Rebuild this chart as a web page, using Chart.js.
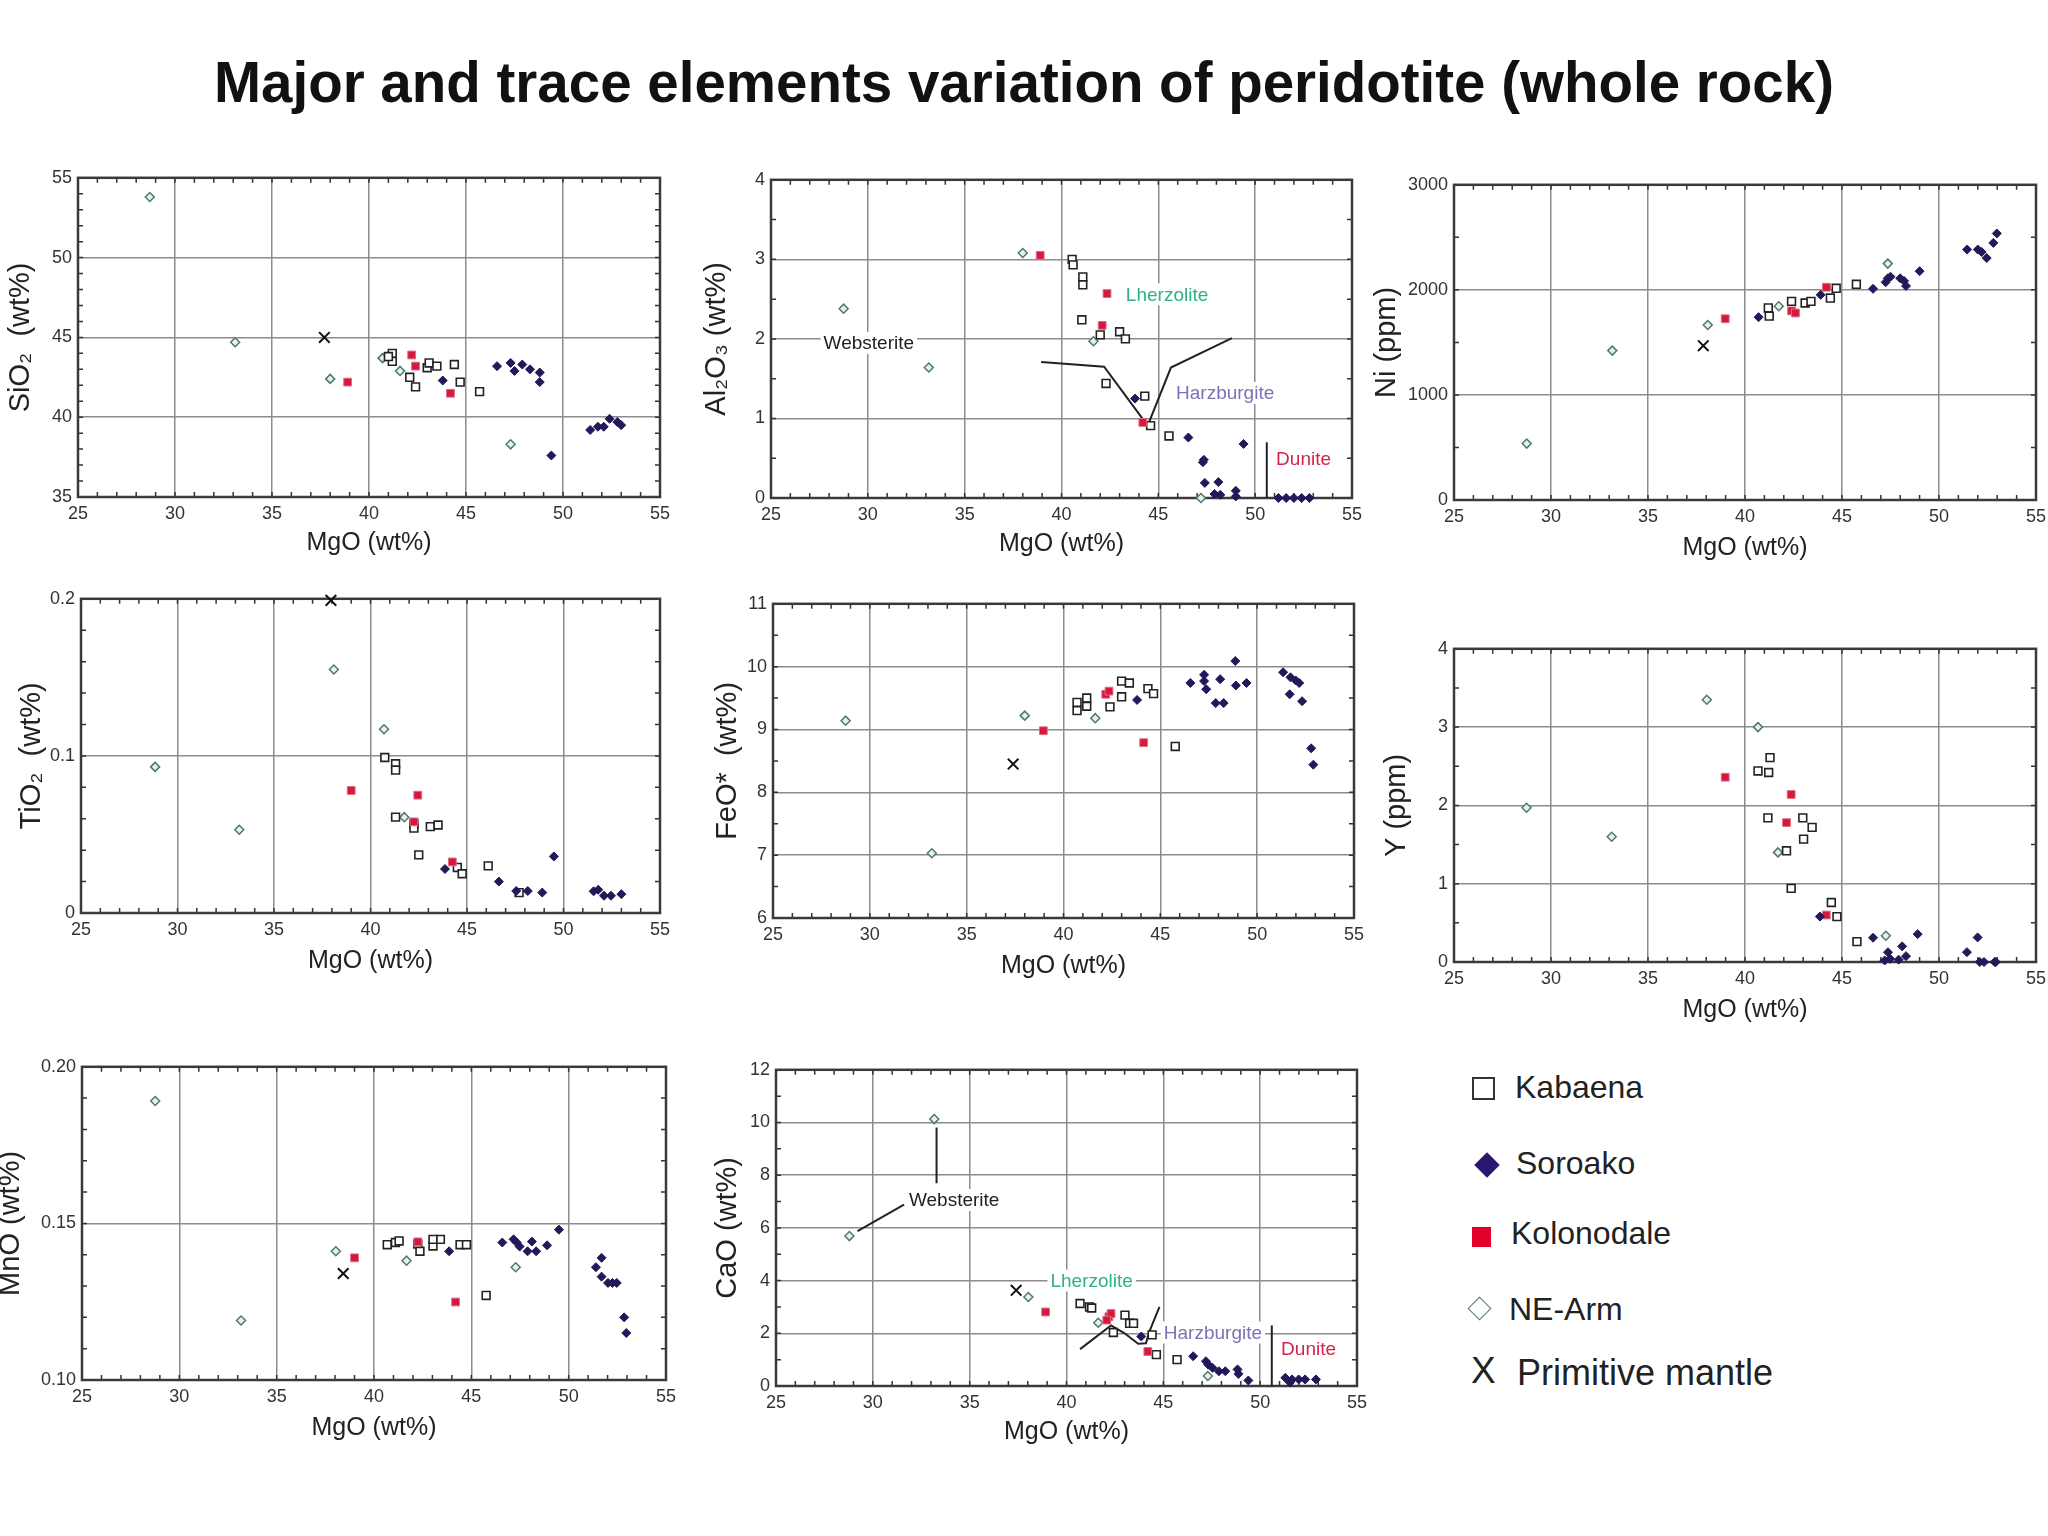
<!DOCTYPE html>
<html>
<head>
<meta charset="utf-8">
<script src="https://cdn.jsdelivr.net/npm/chart.js@4.4.1/dist/chart.umd.min.js"></script>
<style>
  body { margin: 0; width: 2048px; height: 1536px; background: #fff; position: relative; overflow: hidden;
         font-family: 'Liberation Sans', Arial, sans-serif; color: #222; }
  #title { position: absolute; left: 0; top: 54px; width: 2048px; text-align: center;
           font-size: 56.5px; line-height: 57px; font-weight: bold; color: #111; }
  canvas { position: absolute; }
  .lg { position: absolute; font-size: 32px; line-height: 32px; color: #222; white-space: nowrap; }
  .mk { position: absolute; box-sizing: border-box; }
</style>
</head>
<body>
<div id="title">Major and trace elements variation of peridotite (whole rock)</div>

<!-- shared legend -->
<div class="mk" style="left:1472px;top:1077px;width:23px;height:23px;border:2px solid #333;background:#fff"></div>
<div class="lg" style="left:1515px;top:1071px">Kabaena</div>
<div class="mk" style="left:1478px;top:1156px;width:18px;height:18px;background:#2a1670;transform:rotate(45deg)"></div>
<div class="lg" style="left:1516px;top:1147px">Soroako</div>
<div class="mk" style="left:1472px;top:1227px;width:19px;height:20px;background:#e4002b"></div>
<div class="lg" style="left:1511px;top:1217px">Kolonodale</div>
<div class="mk" style="left:1471px;top:1300px;width:17px;height:17px;border:1.5px solid #557f70;background:#fff;transform:rotate(45deg)"></div>
<div class="lg" style="left:1509px;top:1293px">NE-Arm</div>
<div class="lg" style="left:1471px;top:1352px;font-size:37px;line-height:37px">X</div>
<div class="lg" style="left:1517px;top:1355px;font-size:36px;line-height:36px">Primitive mantle</div>

<script>
// ---- axis ticks ----
const mgoTicks = [25, 30, 35, 40, 45, 50, 55];
const sio2Ticks = [35, 40, 45, 50, 55];
const al2o3Ticks = [0, 1, 2, 3, 4];
const niTicks = [0, 1000, 2000, 3000];
const tio2Ticks = [0, 0.1, 0.2];
const tio2TickLabels = ['0', '0.1', '0.2'];
const feoTicks = [6, 7, 8, 9, 10, 11];
const yTicks = [0, 1, 2, 3, 4];
const mnoTicks = [0.10, 0.15, 0.20];
const mnoTickLabels = ['0.10', '0.15', '0.20'];
const caoTicks = [0, 2, 4, 6, 8, 10, 12];

// ---- SiO2 vs MgO ----
const sio2Kabaena = [[41.2,44.0],[41.2,43.5],[41.0,43.8],[42.1,42.5],[42.4,41.9],[43.0,43.1],[43.1,43.4],[43.5,43.2],[44.4,43.3],[44.7,42.2],[45.7,41.6]];
const sio2Soroako = [[43.8,42.3],[46.6,43.2],[47.3,43.4],[47.5,42.9],[47.9,43.3],[48.3,43.0],[48.8,42.8],[48.8,42.2],[49.4,37.6],[51.4,39.2],[51.8,39.4],[52.1,39.4],[52.4,39.9],[52.8,39.7],[53.0,39.5]];
const sio2Kolonodale = [[38.9,42.2],[42.2,43.9],[42.4,43.2],[44.2,41.5]];
const sio2NEArm = [[28.7,53.8],[33.1,44.7],[38.0,42.4],[40.7,43.7],[41.6,42.9],[47.3,38.3]];
const sio2Primitive = [[37.7,45.0]];

// ---- Al2O3 vs MgO ----
const al2o3Kabaena = [[40.55,3.0],[40.6,2.93],[41.1,2.78],[41.1,2.68],[41.05,2.24],[42.0,2.05],[43.0,2.09],[43.3,2.0],[42.3,1.44],[44.3,1.28],[44.6,0.91],[45.55,0.78]];
const al2o3Soroako = [[43.8,1.25],[46.55,0.76],[47.3,0.45],[47.35,0.48],[47.4,0.19],[48.1,0.2],[47.9,0.05],[48.2,0.04],[49.0,0.09],[49.0,0.02],[49.4,0.68],[51.2,0],[51.6,0],[52.0,0],[52.4,0],[52.8,0]];
const al2o3Kolonodale = [[38.9,3.05],[42.35,2.57],[42.1,2.17],[44.2,0.95]];
const al2o3NEArm = [[28.75,2.38],[33.15,1.64],[38.0,3.08],[41.65,1.97],[47.2,0.0]];
const al2o3Boundary = [[38.95,1.71],[42.2,1.65],[44.45,0.91],[45.65,1.64],[48.8,2.01]];
const al2o3DuniteLine = [[50.6,0],[50.6,0.7]];

// ---- Ni vs MgO ----
const niKabaena = [[41.2,1828],[41.25,1750],[42.4,1890],[43.1,1875],[43.4,1890],[44.4,1922],[44.7,2015],[45.74,2053]];
const niSoroako = [[40.7,1740],[43.9,1953],[46.6,2010],[47.25,2072],[47.36,2110],[47.5,2125],[48.0,2110],[48.2,2085],[48.3,2037],[49.0,2178],[51.45,2384],[52.0,2384],[52.2,2360],[52.46,2303],[52.8,2447],[52.98,2537]];
const niKolonodale = [[38.98,1725],[42.4,1800],[42.6,1780],[44.2,2025]];
const niNEArm = [[28.75,537],[33.16,1422],[38.08,1666],[41.74,1844],[47.36,2250]];
const niPrimitive = [[37.85,1469]];

// ---- TiO2 vs MgO ----
const tio2Kabaena = [[40.74,0.099],[41.3,0.095],[41.3,0.091],[41.3,0.061],[42.25,0.057],[42.25,0.054],[43.1,0.055],[43.5,0.056],[42.5,0.037],[44.5,0.029],[44.75,0.025],[46.1,0.030],[47.7,0.013]];
const tio2Soroako = [[43.86,0.028],[46.65,0.020],[47.55,0.014],[48.15,0.014],[48.9,0.013],[49.5,0.036],[51.56,0.0138],[51.8,0.0148],[52.1,0.011],[52.46,0.011],[53.0,0.012]];
const tio2Kolonodale = [[39.0,0.078],[42.45,0.075],[42.25,0.058],[44.24,0.0325]];
const tio2NEArm = [[28.84,0.093],[33.2,0.053],[38.1,0.155],[40.7,0.117],[41.75,0.061]];
const tio2Primitive = [[37.95,0.199]];

// ---- FeO* vs MgO ----
const feoKabaena = [[40.7,9.43],[40.7,9.3],[41.2,9.5],[41.2,9.37],[42.4,9.36],[43.0,9.77],[43.4,9.74],[43.0,9.52],[44.36,9.65],[44.65,9.57],[45.77,8.73]];
const feoSoroako = [[43.8,9.47],[46.55,9.74],[47.26,9.87],[47.26,9.77],[47.37,9.64],[47.86,9.42],[48.27,9.42],[48.09,9.8],[48.87,10.09],[48.9,9.7],[49.45,9.74],[51.34,9.91],[51.68,9.56],[51.72,9.83],[51.99,9.78],[52.17,9.74],[52.32,9.45],[52.79,8.7],[52.9,8.44]];
const feoKolonodale = [[38.96,8.98],[42.18,9.56],[42.35,9.61],[44.14,8.79]];
const feoNEArm = [[28.75,9.14],[33.2,7.03],[38.0,9.22],[41.64,9.18]];
const feoPrimitive = [[37.4,8.45]];

// ---- Y vs MgO ----
const yKabaena = [[41.29,2.61],[40.67,2.44],[41.22,2.42],[41.18,1.84],[42.14,1.42],[42.38,0.94],[42.98,1.84],[43.46,1.72],[43.02,1.57],[44.45,0.76],[44.74,0.58],[45.77,0.26]];
const ySoroako = [[43.86,0.58],[46.6,0.31],[47.37,0.125],[47.2,0.02],[47.48,0.04],[48.1,0.2],[47.92,0.03],[48.3,0.075],[48.9,0.356],[51.44,0.126],[51.99,0.314],[52.1,0],[52.32,0],[52.87,0],[52.93,0]];
const yKolonodale = [[38.98,2.36],[42.38,2.14],[42.14,1.78],[44.19,0.6]];
const yNEArm = [[28.74,1.97],[33.13,1.6],[38.03,3.35],[40.67,3.0],[41.7,1.4],[47.26,0.335]];

// ---- MnO vs MgO ----
const mnoKabaena = [[40.68,0.1432],[41.1,0.1439],[41.29,0.1444],[42.25,0.1434],[42.36,0.1411],[43.03,0.1428],[43.41,0.1449],[43.03,0.1449],[44.42,0.1432],[44.75,0.1432],[45.76,0.127]];
const mnoSoroako = [[43.86,0.1411],[46.59,0.1439],[47.17,0.1449],[47.33,0.1439],[47.48,0.1426],[47.89,0.1411],[48.33,0.1411],[48.11,0.1442],[48.89,0.143],[49.5,0.148],[51.4,0.136],[51.69,0.139],[51.69,0.133],[52.02,0.131],[52.25,0.131],[52.47,0.131],[52.85,0.12],[52.96,0.115]];
const mnoKolonodale = [[39.0,0.139],[42.25,0.1441],[44.19,0.1249]];
const mnoNEArm = [[28.76,0.1891],[33.17,0.119],[38.04,0.1411],[41.67,0.1381],[47.28,0.136]];
const mnoPrimitive = [[38.42,0.134]];

// ---- CaO vs MgO ----
const caoKabaena = [[40.7,3.13],[41.19,3.0],[41.3,2.96],[43.02,2.69],[43.26,2.38],[43.46,2.38],[42.42,2.03],[44.42,1.94],[44.64,1.19],[45.71,1.0]];
const caoSoroako = [[43.86,1.88],[46.54,1.13],[47.2,0.94],[47.32,0.81],[47.54,0.69],[47.87,0.56],[48.2,0.56],[48.83,0.63],[48.88,0.46],[49.39,0.21],[51.3,0.31],[51.54,0.13],[51.65,0.25],[51.99,0.25],[52.32,0.25],[52.88,0.25]];
const caoKolonodale = [[38.92,2.81],[42.19,2.63],[42.3,2.75],[42.08,2.5],[44.2,1.31]];
const caoNEArm = [[28.79,5.69],[33.17,10.13],[38.03,3.38],[41.64,2.4],[47.3,0.38]];
const caoPrimitive = [[37.4,3.63]];
const caoBoundary = [[40.7,1.4],[42.3,2.3],[43.0,2.0],[43.7,1.6],[44.1,1.62],[44.3,2.1],[44.8,3.0]];
const caoDuniteLine = [[50.6,0],[50.6,2.3]];
const caoWebsteriteUp = [[33.29,9.81],[33.29,7.69]];
const caoWebsteriteDown = [[29.21,5.88],[31.61,6.88]];

// ---- look ----
const narrow = "'Liberation Sans Narrow', 'Arial Narrow', 'Liberation Sans', sans-serif";
const regular = "'Liberation Sans', Arial, sans-serif";
const YW = 100, XH = 80, PADT = 16, PADR = 24;
const X_TITLE = 25, Y_TITLE = 29;

const styles = {
  soroako:    { pointStyle: 'rectRot', pointRadius: 4.5, backgroundColor: '#22195a', borderColor: '#22195a', borderWidth: 1 },
  kabaena:    { pointStyle: 'rect', pointRadius: 5.5, backgroundColor: '#fff', borderColor: '#222', borderWidth: 1.6 },
  kolonodale: { pointStyle: 'rect', pointRadius: 5.5, backgroundColor: '#d4183e', borderColor: '#e26a80', borderWidth: 1 },
  neArm:      { pointStyle: 'rectRot', pointRadius: 4.5, backgroundColor: '#e6f0ec', borderColor: '#4f7a6b', borderWidth: 1.5 },
  primitive:  { pointStyle: 'crossRot', pointRadius: 7.5, backgroundColor: '#111', borderColor: '#111', borderWidth: 2 }
};

const panels = [
  { box: [78, 177, 660, 497], yTitle: 'SiO\u2082  (wt%)', ticks: sio2Ticks, minor: 1, yGap: 57, xGap: 46,
    series: { soroako: sio2Soroako, kolonodale: sio2Kolonodale, kabaena: sio2Kabaena, neArm: sio2NEArm, primitive: sio2Primitive } },
  { box: [771, 179, 1352, 498], yTitle: 'Al\u2082O\u2083 (wt%)', ticks: al2o3Ticks, minor: 0.5, yGap: 54, xGap: 46,
    series: { soroako: al2o3Soroako, kolonodale: al2o3Kolonodale, kabaena: al2o3Kabaena, neArm: al2o3NEArm },
    lines: [al2o3Boundary, al2o3DuniteLine],
    labels: [
      { text: 'Websterite', x: 30.05, y: 1.95, color: '#222' },
      { text: 'Lherzolite', x: 45.45, y: 2.56, color: '#2fb088' },
      { text: 'Harzburgite', x: 48.45, y: 1.32, color: '#7a72b4' },
      { text: 'Dunite', x: 52.5, y: 0.49, color: '#d4244a' }
    ] },
  { box: [1454, 184, 2036, 500], yTitle: 'Ni (ppm)', ticks: niTicks, minor: 500, yGap: 67, xGap: 48,
    series: { soroako: niSoroako, kolonodale: niKolonodale, kabaena: niKabaena, neArm: niNEArm, primitive: niPrimitive } },
  { box: [81, 598, 660, 913], yTitle: 'TiO\u2082  (wt%)', ticks: tio2Ticks, tickLabels: tio2TickLabels, minor: 0.02, yGap: 49, xGap: 48,
    series: { soroako: tio2Soroako, kolonodale: tio2Kolonodale, kabaena: tio2Kabaena, neArm: tio2NEArm, primitive: tio2Primitive } },
  { box: [773, 603, 1354, 918], yTitle: 'FeO*  (wt%)', ticks: feoTicks, minor: 0.5, yGap: 45, xGap: 48,
    series: { soroako: feoSoroako, kolonodale: feoKolonodale, kabaena: feoKabaena, neArm: feoNEArm, primitive: feoPrimitive } },
  { box: [1454, 648, 2036, 962], yTitle: 'Y (ppm)', ticks: yTicks, minor: 0.5, yGap: 57, xGap: 48,
    series: { soroako: ySoroako, kolonodale: yKolonodale, kabaena: yKabaena, neArm: yNEArm } },
  { box: [82, 1066, 666, 1380], yTitle: 'MnO (wt%)', ticks: mnoTicks, tickLabels: mnoTickLabels, minor: 0.01, yGap: 71, xGap: 48,
    series: { soroako: mnoSoroako, kolonodale: mnoKolonodale, kabaena: mnoKabaena, neArm: mnoNEArm, primitive: mnoPrimitive } },
  { box: [776, 1069, 1357, 1386], yTitle: 'CaO (wt%)', ticks: caoTicks, minor: 1, yGap: 48, xGap: 46,
    series: { soroako: caoSoroako, kolonodale: caoKolonodale, kabaena: caoKabaena, neArm: caoNEArm, primitive: caoPrimitive },
    lines: [caoBoundary, caoDuniteLine, caoWebsteriteUp, caoWebsteriteDown],
    labels: [
      { text: 'Websterite', x: 34.2, y: 7.06, color: '#222' },
      { text: 'Lherzolite', x: 41.3, y: 4.0, color: '#2fb088' },
      { text: 'Harzburgite', x: 47.56, y: 2.03, color: '#7a72b4' },
      { text: 'Dunite', x: 52.5, y: 1.42, color: '#d4244a' }
    ] }
];

const toXY = arr => arr.map(p => ({ x: p[0], y: p[1] }));

// frame, inner minor ticks and field labels
const framePlugin = {
  id: 'frame',
  beforeDatasetsDraw(chart) {
    const { ctx, chartArea: a, scales: { x, y } } = chart;
    const o = chart.options.plugins.frame;
    ctx.save();
    ctx.strokeStyle = '#333';
    ctx.lineWidth = 1.5;
    ctx.beginPath();
    for (let v = x.min; v <= x.max; v += 1) {
      const px = x.getPixelForValue(v);
      ctx.moveTo(px, a.bottom); ctx.lineTo(px, a.bottom - 5);
      ctx.moveTo(px, a.top); ctx.lineTo(px, a.top + 5);
    }
    const n = Math.round((y.max - y.min) / o.minor);
    for (let i = 0; i <= n; i++) {
      const py = y.getPixelForValue(y.min + i * o.minor);
      ctx.moveTo(a.left, py); ctx.lineTo(a.left + 5, py);
      ctx.moveTo(a.right, py); ctx.lineTo(a.right - 5, py);
    }
    ctx.stroke();
    ctx.lineWidth = 2.5;
    ctx.strokeStyle = '#3a3a3a';
    ctx.strokeRect(a.left, a.top, a.right - a.left, a.bottom - a.top);

    ctx.font = '19px ' + narrow;
    ctx.textAlign = 'center';
    ctx.textBaseline = 'middle';
    (o.labels || []).forEach(l => {
      const px = x.getPixelForValue(l.x), py = y.getPixelForValue(l.y);
      const w = ctx.measureText(l.text).width;
      ctx.fillStyle = '#fff';
      ctx.fillRect(px - w / 2 - 3, py - 11, w + 6, 22);
      ctx.fillStyle = l.color;
      ctx.fillText(l.text, px, py + 1);
    });
    ctx.restore();
  }
};

panels.forEach(p => {
  const [L, T, R, B] = p.box;
  const cv = document.createElement('canvas');
  cv.width = YW + (R - L) + PADR;
  cv.height = PADT + (B - T) + XH;
  cv.style.left = (L - YW) + 'px';
  cv.style.top = (T - PADT) + 'px';
  document.body.appendChild(cv);

  const datasets = [];
  Object.keys(p.series).forEach(k => {
    datasets.push(Object.assign({ data: toXY(p.series[k]), order: 1, clip: false }, styles[k]));
  });
  (p.lines || []).forEach(line => {
    datasets.push({ data: toXY(line), showLine: true, pointRadius: 0, borderColor: '#222',
                    borderWidth: 2, fill: false, order: 5, clip: false });
  });

  const yMin = p.ticks[0], yMax = p.ticks[p.ticks.length - 1];
  new Chart(cv.getContext('2d'), {
    type: 'scatter',
    data: { datasets },
    options: {
      responsive: false,
      animation: false,
      events: [],
      layout: { padding: { top: PADT, right: PADR, left: 0, bottom: 0 } },
      plugins: {
        legend: { display: false },
        tooltip: { enabled: false },
        frame: { minor: p.minor, labels: p.labels || [] }
      },
      scales: {
        x: {
          type: 'linear', min: 25, max: 55,
          afterBuildTicks: s => { s.ticks = mgoTicks.map(v => ({ value: v })); },
          afterFit: s => { s.height = XH; },
          grid: { color: '#8c8c8c', lineWidth: 1.5, drawTicks: false },
          border: { display: false },
          ticks: { font: { size: 18, family: regular }, color: '#333', padding: 6, maxRotation: 0, autoSkip: false },
          title: { display: true, text: 'MgO (wt%)', color: '#222', font: { size: X_TITLE, family: narrow },
                   padding: { top: 0, bottom: XH - p.xGap - X_TITLE * 0.6 } }
        },
        y: {
          type: 'linear', min: yMin, max: yMax,
          afterBuildTicks: s => { s.ticks = p.ticks.map(v => ({ value: v })); },
          afterFit: s => { s.width = YW; },
          grid: { color: '#8c8c8c', lineWidth: 1.5, drawTicks: false },
          border: { display: false },
          ticks: { font: { size: 18, family: regular }, color: '#333', padding: 6, autoSkip: false,
                    callback: (v, i) => p.tickLabels ? p.tickLabels[i] : String(p.ticks[i]) },
          title: { display: true, text: p.yTitle, color: '#222', font: { size: Y_TITLE, family: narrow },
                   padding: { top: YW - p.yGap - Y_TITLE * 0.6, bottom: 0 } }
        }
      }
    },
    plugins: [framePlugin]
  });
});
</script>
</body>
</html>
